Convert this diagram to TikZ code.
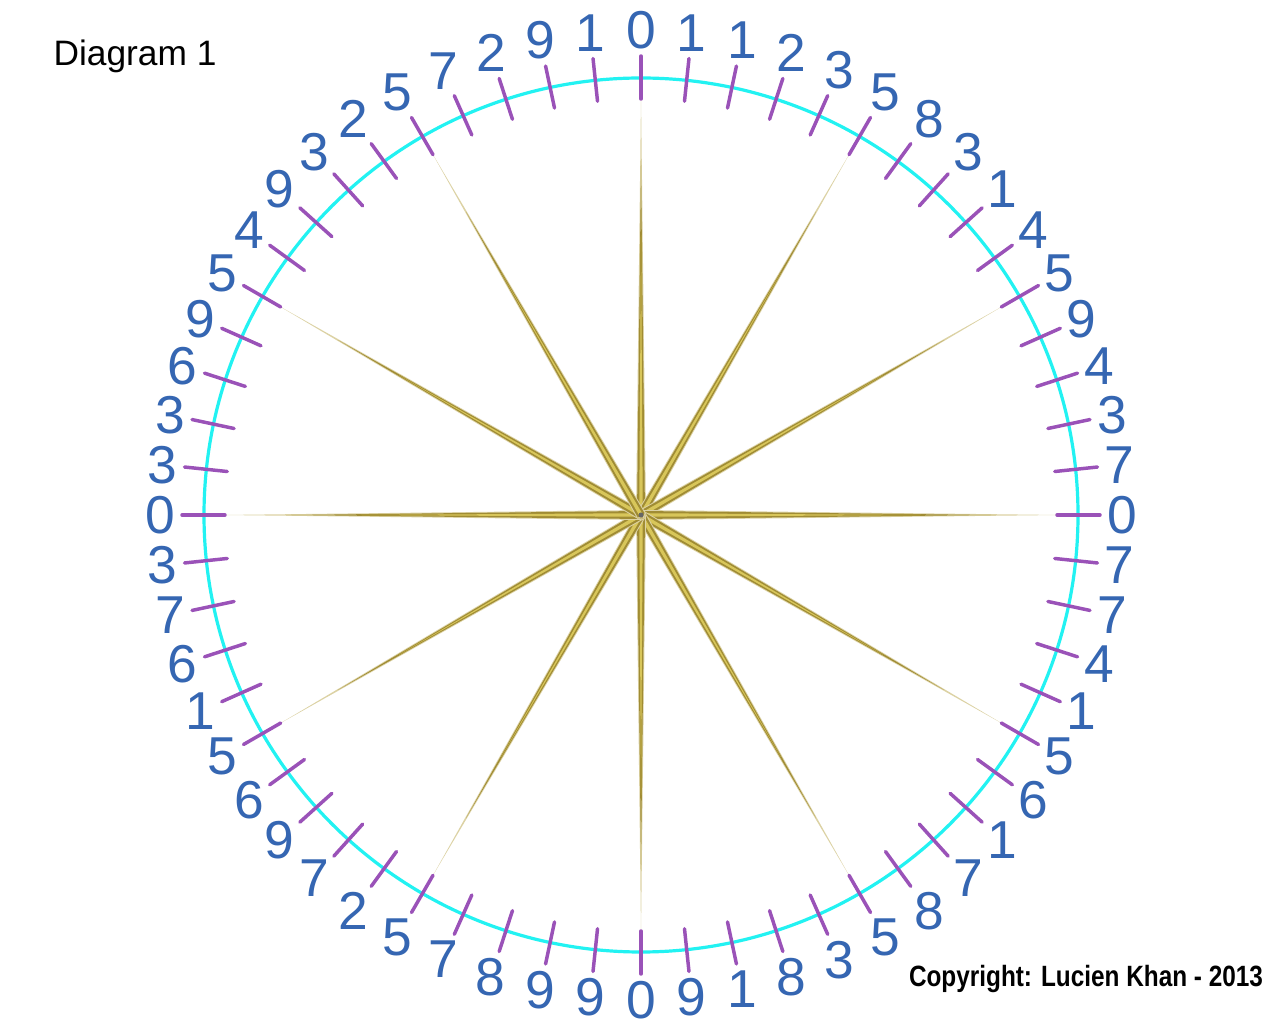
\documentclass[tikz,border=0pt]{standalone}
\usepackage{fontspec}
\setmainfont{Liberation Sans}
\definecolor{ringcyan}{HTML}{22F2F2}
\definecolor{tickpurple}{HTML}{9A52B8}
\definecolor{digitblue}{HTML}{3566B2}
\definecolor{spokepale}{HTML}{DCD2A4}
\definecolor{spokedark}{HTML}{A08C34}
\definecolor{spokegold}{HTML}{D8C65A}
\begin{document}
\begin{tikzpicture}[x=0.75pt,y=0.75pt,
	digit/.style={text=digitblue,font=\fontsize{40}{40}\selectfont,inner sep=0pt},
	tickmark/.style={tickpurple,line width=2.6pt,line cap=round},
	caption/.style={font=\fontsize{26.5}{28}\selectfont,inner sep=0pt}]
	\useasboundingbox[fill=white] (0,0) rectangle (1280,1024);
	\coordinate (c) at (641,509);
	\begin{scope}[shift={(c)}]
	% spokes, one every 30 degrees
	\foreach \k in {0,...,11}{
		\pgfmathsetmacro{\a}{90-30*\k}
		\fill[spokepale] (\a+90:5) -- (\a:418) -- (\a-90:5) -- (\a+180:4) -- cycle;
		\fill[spokedark] (\a+90:4) -- (\a:350) -- (\a-90:4) -- (\a+180:3) -- cycle;
		\fill[spokegold] (\a+90:1.8) -- (\a:280) -- (\a-90:1.8) -- cycle;
	}
	\fill[black!60] (0,0) circle (2.5);
	% ring
	\draw[ringcyan,line width=2.4pt] (0,0) circle (437);
	% ticks and digits (last digits of the Fibonacci numbers)
	\foreach \d [count=\n from 0] in {0,1,1,2,3,5,8,3,1,4,5,9,4,3,7,0,7,7,4,1,5,6,1,7,8,5,3,8,1,9,0,9,9,8,7,5,2,7,9,6,5,1,6,7,3,0,3,3,6,9,5,4,9,3,2,5,7,2,9,1}{
		\pgfmathtruncatemacro{\a}{mod(450-6*\n,360)}
		\pgfmathtruncatemacro{\b}{mod(\a+180,360)}
		\draw[tickmark] (\a:416) -- (\a:459);
		\node[digit,anchor=\b] (d\n) at (\a:466) {\d};
	}
	\end{scope}
	\node[caption] (title) at (135,968) {Diagram 1};
	\node[font=\fontsize{22}{24}\selectfont\bfseries,inner sep=0pt,xscale=0.83,transform shape] (copy) at (1086,45) {Copyright: Lucien Khan - 2013};
\end{tikzpicture}
\end{document}
